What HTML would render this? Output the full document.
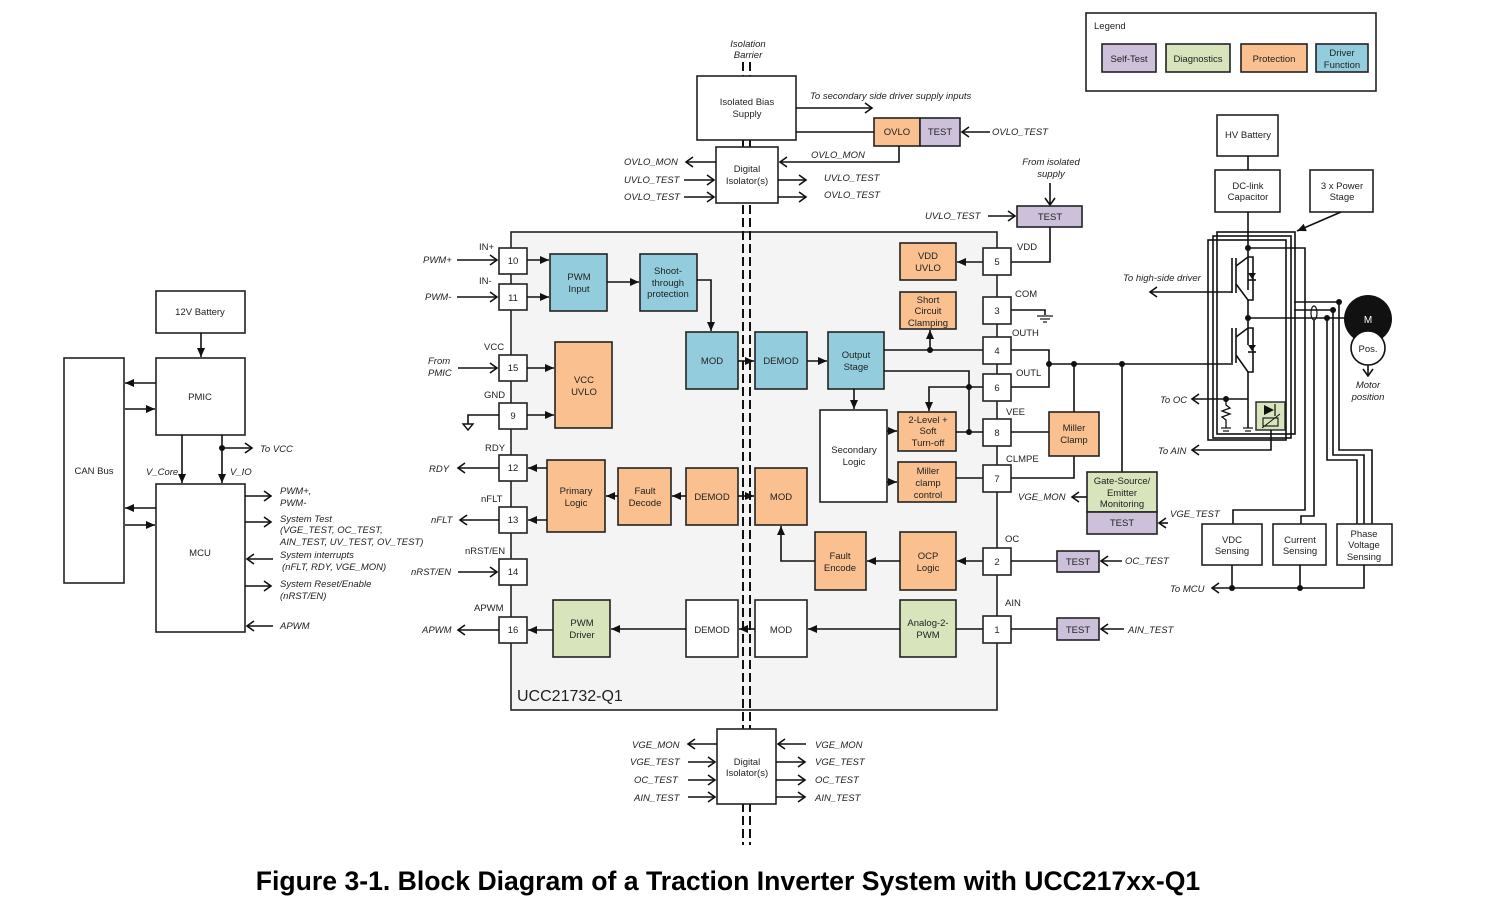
<!DOCTYPE html>
<html><head><meta charset="utf-8"><style>
html,body{margin:0;padding:0;background:#fff}
svg{display:block}
text{font-family:"Liberation Sans",sans-serif;font-size:9.5px;fill:#222}
.i{font-style:italic}
.c{text-anchor:middle}
.r{text-anchor:end}
.l{stroke:#111;stroke-width:1.6;fill:none}
.bx{stroke:#222;stroke-width:1.6}
.W{fill:#fff}.B{fill:#93cddd}.O{fill:#fac090}.G{fill:#d7e4bc}.P{fill:#ccc0da}
</style></head><body>
<svg width="1496" height="901" viewBox="0 0 1496 901" xmlns="http://www.w3.org/2000/svg">
<defs>
<marker id="t" markerWidth="10" markerHeight="10" refX="9" refY="5" orient="auto" markerUnits="userSpaceOnUse"><path d="M0,1 L9,5 L0,9z" fill="#111"/></marker>
<marker id="o" markerWidth="10" markerHeight="12" refX="8" refY="6" orient="auto" markerUnits="userSpaceOnUse"><path d="M1,1 L8,6 L1,11" fill="none" stroke="#111" stroke-width="1.6"/></marker>
</defs>

<!-- Legend -->
<rect x="1086" y="13" width="290" height="78" class="bx W"/>
<text x="1094" y="29">Legend</text>
<rect x="1102" y="44" width="54" height="28" class="bx P"/><text x="1129" y="62" class="c">Self-Test</text>
<rect x="1166" y="44" width="64" height="28" class="bx G"/><text x="1198" y="62" class="c">Diagnostics</text>
<rect x="1241" y="44" width="66" height="28" class="bx O"/><text x="1274" y="62" class="c">Protection</text>
<rect x="1316" y="44" width="52" height="28" class="bx B"/><text x="1342" y="56" class="c">Driver</text><text x="1342" y="68" class="c">Function</text>

<!-- Chip -->
<rect x="511" y="232" width="486" height="478" fill="#f4f4f4" stroke="#222" stroke-width="1.6"/>
<text x="517" y="701" style="font-size:16px">UCC21732-Q1</text>

<!-- isolation barrier -->
<line x1="743" y1="62" x2="743" y2="845" stroke="#111" stroke-width="2" stroke-dasharray="9,4"/>
<line x1="750" y1="62" x2="750" y2="845" stroke="#111" stroke-width="2" stroke-dasharray="9,4"/>
<text x="748" y="47" class="c i">Isolation</text><text x="748" y="58" class="c i">Barrier</text>

<!-- Top section -->
<rect x="697" y="76" width="99" height="64" class="bx W"/><text x="747" y="105" class="c">Isolated Bias</text><text x="747" y="117" class="c">Supply</text>
<rect x="716" y="147" width="62" height="56" class="bx W"/><text x="747" y="172" class="c">Digital</text><text x="747" y="184" class="c">Isolator(s)</text>
<line x1="796" y1="108" x2="872" y2="108" class="l" marker-end="url(#o)"/>
<text x="810" y="99" class="i">To secondary side driver supply inputs</text>
<line x1="796" y1="132" x2="874" y2="132" class="l"/>
<rect x="874" y="118" width="46" height="28" class="bx O"/><text x="897" y="135" class="c">OVLO</text>
<rect x="920" y="118" width="40" height="28" class="bx P"/><text x="940" y="135" class="c">TEST</text>
<line x1="990" y1="132" x2="962" y2="132" class="l" marker-end="url(#o)"/><text x="992" y="135" class="i">OVLO_TEST</text>
<polyline points="899,146 899,162 780,162" class="l" marker-end="url(#o)"/><text x="811" y="158" class="i">OVLO_MON</text>
<line x1="716" y1="162" x2="686" y2="162" class="l" marker-end="url(#o)"/><text x="624" y="165" class="i">OVLO_MON</text>
<line x1="684" y1="180" x2="714" y2="180" class="l" marker-end="url(#o)"/><text x="624" y="183" class="i">UVLO_TEST</text>
<line x1="684" y1="197" x2="714" y2="197" class="l" marker-end="url(#o)"/><text x="624" y="200" class="i">OVLO_TEST</text>
<line x1="778" y1="180" x2="806" y2="180" class="l" marker-end="url(#o)"/><text x="824" y="181" class="i">UVLO_TEST</text>
<line x1="778" y1="197" x2="806" y2="197" class="l" marker-end="url(#o)"/><text x="824" y="198" class="i">OVLO_TEST</text>
<text x="1051" y="165" class="c i">From isolated</text><text x="1051" y="177" class="c i">supply</text>
<line x1="1050" y1="183" x2="1050" y2="205" class="l" marker-end="url(#o)"/>
<rect x="1017" y="206" width="65" height="21" class="bx P"/><text x="1050" y="220" class="c">TEST</text>
<line x1="988" y1="216" x2="1015" y2="216" class="l" marker-end="url(#o)"/><text x="925" y="219" class="i">UVLO_TEST</text>
<polyline points="1050,227 1050,262 1011,262" class="l"/>

<!-- Left pins -->
<g>
<rect x="499" y="248" width="28" height="26" class="bx W"/><text x="513" y="264" class="c">10</text><text x="479" y="250">IN+</text>
<rect x="499" y="284" width="28" height="26" class="bx W"/><text x="513" y="301" class="c">11</text><text x="479" y="284">IN-</text>
<rect x="499" y="355" width="28" height="26" class="bx W"/><text x="513" y="371" class="c">15</text><text x="484" y="350">VCC</text>
<rect x="499" y="403" width="28" height="26" class="bx W"/><text x="513" y="419" class="c">9</text><text x="484" y="398">GND</text>
<rect x="499" y="455" width="28" height="26" class="bx W"/><text x="513" y="471" class="c">12</text><text x="485" y="451">RDY</text>
<rect x="499" y="507" width="28" height="26" class="bx W"/><text x="513" y="523" class="c">13</text><text x="481" y="502">nFLT</text>
<rect x="499" y="559" width="28" height="26" class="bx W"/><text x="513" y="575" class="c">14</text><text x="465" y="554">nRST/EN</text>
<rect x="499" y="617" width="28" height="26" class="bx W"/><text x="513" y="633" class="c">16</text><text x="474" y="611">APWM</text>
</g>
<line x1="457" y1="260" x2="497" y2="260" class="l" marker-end="url(#o)"/><text x="423" y="263" class="i">PWM+</text>
<line x1="457" y1="297" x2="497" y2="297" class="l" marker-end="url(#o)"/><text x="425" y="300" class="i">PWM-</text>
<line x1="458" y1="368" x2="497" y2="368" class="l" marker-end="url(#o)"/><text x="428" y="364" class="i">From</text><text x="428" y="376" class="i">PMIC</text>
<polyline points="499,415 468,415 468,424" class="l"/><path d="M463,424 L473,424 L468,430z" fill="none" stroke="#111" stroke-width="1.4"/>
<line x1="499" y1="468" x2="458" y2="468" class="l" marker-end="url(#o)"/><text x="429" y="472" class="i">RDY</text>
<line x1="499" y1="520" x2="460" y2="520" class="l" marker-end="url(#o)"/><text x="431" y="523" class="i">nFLT</text>
<line x1="458" y1="572" x2="497" y2="572" class="l" marker-end="url(#o)"/><text x="411" y="575" class="i">nRST/EN</text>
<line x1="499" y1="630" x2="458" y2="630" class="l" marker-end="url(#o)"/><text x="422" y="633" class="i">APWM</text>

<!-- Primary side blocks -->
<rect x="550" y="254" width="57" height="57" class="bx B"/><text x="579" y="280" class="c">PWM</text><text x="579" y="292" class="c">Input</text>
<rect x="640" y="254" width="57" height="57" class="bx B"/><text x="668" y="274" class="c">Shoot-</text><text x="668" y="286" class="c">through</text><text x="668" y="297" class="c">protection</text>
<rect x="686" y="332" width="52" height="57" class="bx B"/><text x="712" y="364" class="c">MOD</text>
<rect x="755" y="332" width="52" height="57" class="bx B"/><text x="781" y="364" class="c">DEMOD</text>
<rect x="828" y="332" width="56" height="57" class="bx B"/><text x="856" y="358" class="c">Output</text><text x="856" y="370" class="c">Stage</text>
<rect x="555" y="342" width="57" height="86" class="bx O"/><text x="584" y="383" class="c">VCC</text><text x="584" y="395" class="c">UVLO</text>
<rect x="547" y="460" width="58" height="72" class="bx O"/><text x="576" y="494" class="c">Primary</text><text x="576" y="506" class="c">Logic</text>
<rect x="618" y="468" width="53" height="57" class="bx O"/><text x="645" y="494" class="c">Fault</text><text x="645" y="506" class="c">Decode</text>
<rect x="686" y="468" width="52" height="57" class="bx O"/><text x="712" y="500" class="c">DEMOD</text>
<rect x="755" y="468" width="52" height="57" class="bx O"/><text x="781" y="500" class="c">MOD</text>
<rect x="815" y="532" width="51" height="58" class="bx O"/><text x="840" y="559" class="c">Fault</text><text x="840" y="571" class="c">Encode</text>
<rect x="900" y="532" width="56" height="58" class="bx O"/><text x="928" y="559" class="c">OCP</text><text x="928" y="571" class="c">Logic</text>
<rect x="553" y="600" width="57" height="57" class="bx G"/><text x="582" y="626" class="c">PWM</text><text x="582" y="638" class="c">Driver</text>
<rect x="686" y="600" width="52" height="57" class="bx W"/><text x="712" y="633" class="c">DEMOD</text>
<rect x="755" y="600" width="52" height="57" class="bx W"/><text x="781" y="633" class="c">MOD</text>
<rect x="900" y="600" width="56" height="57" class="bx G"/><text x="928" y="626" class="c">Analog-2-</text><text x="928" y="638" class="c">PWM</text>
<rect x="900" y="243" width="56" height="37" class="bx O"/><text x="928" y="259" class="c">VDD</text><text x="928" y="271" class="c">UVLO</text>
<rect x="900" y="292" width="56" height="37" class="bx O"/><text x="928" y="303" class="c">Short</text><text x="928" y="314" class="c">Circuit</text><text x="928" y="326" class="c">Clamping</text>
<rect x="820" y="410" width="67" height="92" class="bx W"/><text x="854" y="453" class="c">Secondary</text><text x="854" y="465" class="c">Logic</text>
<rect x="898" y="412" width="58" height="39" class="bx O"/><text x="928" y="423" class="c">2-Level +</text><text x="928" y="434" class="c">Soft</text><text x="928" y="446" class="c">Turn-off</text>
<rect x="898" y="462" width="58" height="40" class="bx O"/><text x="928" y="474" class="c">Miller</text><text x="928" y="486" class="c">clamp</text><text x="928" y="498" class="c">control</text>

<!-- internal connections -->
<line x1="527" y1="260" x2="549" y2="260" class="l" marker-end="url(#t)"/>
<line x1="527" y1="297" x2="549" y2="297" class="l" marker-end="url(#t)"/>
<line x1="607" y1="282" x2="639" y2="282" class="l" marker-end="url(#t)"/>
<polyline points="697,280 711,280 711,331" class="l" marker-end="url(#t)"/>
<line x1="738" y1="361" x2="754" y2="361" class="l" marker-end="url(#t)"/>
<line x1="807" y1="361" x2="827" y2="361" class="l" marker-end="url(#t)"/>
<line x1="527" y1="368" x2="554" y2="368" class="l" marker-end="url(#t)"/>
<line x1="527" y1="415" x2="554" y2="415" class="l" marker-end="url(#t)"/>
<line x1="547" y1="468" x2="528" y2="468" class="l" marker-end="url(#t)"/>
<line x1="547" y1="520" x2="528" y2="520" class="l" marker-end="url(#t)"/>
<line x1="618" y1="496" x2="606" y2="496" class="l" marker-end="url(#t)"/>
<line x1="686" y1="496" x2="672" y2="496" class="l" marker-end="url(#t)"/>
<line x1="738" y1="496" x2="754" y2="496" class="l" marker-end="url(#t)"/>
<polyline points="815,561 781,561 781,526" class="l" marker-end="url(#t)"/>
<line x1="900" y1="561" x2="867" y2="561" class="l" marker-end="url(#t)"/>
<line x1="983" y1="561" x2="957" y2="561" class="l" marker-end="url(#t)"/>
<line x1="686" y1="629" x2="611" y2="629" class="l" marker-end="url(#t)"/>
<line x1="755" y1="629" x2="739" y2="629" class="l" marker-end="url(#t)"/>
<line x1="900" y1="629" x2="808" y2="629" class="l" marker-end="url(#t)"/>
<line x1="956" y1="629" x2="983" y2="629" class="l"/>
<line x1="553" y1="630" x2="528" y2="630" class="l" marker-end="url(#t)"/>
<line x1="983" y1="262" x2="957" y2="262" class="l" marker-end="url(#t)"/>
<line x1="884" y1="350" x2="983" y2="350" class="l"/>
<line x1="930" y1="350" x2="930" y2="330" class="l" marker-end="url(#t)"/><circle cx="930" cy="350" r="3" fill="#111"/>
<polyline points="884,371 969,371 969,432" class="l"/>
<polyline points="983,387 929,387 929,411" class="l" marker-end="url(#t)"/><circle cx="969" cy="387" r="3" fill="#111"/>
<line x1="956" y1="432" x2="983" y2="432" class="l"/><circle cx="969" cy="432" r="3" fill="#111"/>
<line x1="854" y1="389" x2="854" y2="409" class="l" marker-end="url(#t)"/>
<line x1="887" y1="431" x2="897" y2="431" class="l" marker-end="url(#t)"/>
<line x1="887" y1="482" x2="897" y2="482" class="l" marker-end="url(#t)"/>
<line x1="956" y1="478" x2="983" y2="478" class="l"/>

<!-- Right pins -->
<rect x="983" y="248" width="28" height="27" class="bx W"/><text x="997" y="265" class="c">5</text><text x="1017" y="250">VDD</text>
<rect x="983" y="297" width="28" height="27" class="bx W"/><text x="997" y="314" class="c">3</text><text x="1015" y="297">COM</text>
<rect x="983" y="337" width="28" height="27" class="bx W"/><text x="997" y="354" class="c">4</text><text x="1012" y="336">OUTH</text>
<rect x="983" y="374" width="28" height="27" class="bx W"/><text x="997" y="391" class="c">6</text><text x="1016" y="376">OUTL</text>
<rect x="983" y="419" width="28" height="27" class="bx W"/><text x="997" y="436" class="c">8</text><text x="1006" y="415">VEE</text>
<rect x="983" y="465" width="28" height="27" class="bx W"/><text x="997" y="482" class="c">7</text><text x="1006" y="462">CLMPE</text>
<rect x="983" y="548" width="28" height="27" class="bx W"/><text x="997" y="565" class="c">2</text><text x="1005" y="542">OC</text>
<rect x="983" y="616" width="28" height="27" class="bx W"/><text x="997" y="633" class="c">1</text><text x="1005" y="606">AIN</text>

<polyline points="1011,310 1045,310 1045,315" class="l"/>
<line x1="1037" y1="316" x2="1053" y2="316" class="l" style="stroke-width:1.2"/><line x1="1040" y1="319" x2="1050" y2="319" class="l" style="stroke-width:1.2"/><line x1="1043" y1="322" x2="1047" y2="322" class="l" style="stroke-width:1.2"/>
<polyline points="1011,350 1049,350 1049,387 1011,387" class="l"/>
<line x1="1049" y1="364" x2="1233" y2="364" class="l"/>
<circle cx="1049" cy="364" r="3" fill="#111"/><circle cx="1074" cy="364" r="3" fill="#111"/><circle cx="1122" cy="364" r="3" fill="#111"/>
<line x1="1074" y1="364" x2="1074" y2="412" class="l"/>
<line x1="1011" y1="432" x2="1049" y2="432" class="l"/>
<polyline points="1011,478 1074,478 1074,456" class="l"/>
<rect x="1049" y="412" width="50" height="44" class="bx O"/><text x="1074" y="431" class="c">Miller</text><text x="1074" y="443" class="c">Clamp</text>
<line x1="1122" y1="364" x2="1122" y2="472" class="l"/>
<rect x="1087" y="472" width="70" height="40" class="bx G"/><text x="1122" y="484" class="c">Gate-Source/</text><text x="1122" y="496" class="c">Emitter</text><text x="1122" y="507" class="c">Monitoring</text>
<rect x="1087" y="512" width="70" height="22" class="bx P"/><text x="1122" y="526" class="c">TEST</text>
<line x1="1087" y1="497" x2="1072" y2="497" class="l" marker-end="url(#o)"/><text x="1018" y="500" class="i">VGE_MON</text>
<line x1="1168" y1="523" x2="1159" y2="523" class="l" marker-end="url(#o)"/><text x="1170" y="517" class="i">VGE_TEST</text>
<line x1="1011" y1="561" x2="1057" y2="561" class="l"/>
<rect x="1057" y="551" width="42" height="21" class="bx P"/><text x="1078" y="565" class="c">TEST</text>
<line x1="1122" y1="561" x2="1101" y2="561" class="l" marker-end="url(#o)"/><text x="1125" y="564" class="i">OC_TEST</text>
<line x1="1011" y1="629" x2="1057" y2="629" class="l"/>
<rect x="1057" y="618" width="42" height="22" class="bx P"/><text x="1078" y="633" class="c">TEST</text>
<line x1="1124" y1="629" x2="1101" y2="629" class="l" marker-end="url(#o)"/><text x="1128" y="633" class="i">AIN_TEST</text>

<!-- Power stage -->
<rect x="1217" y="115" width="61" height="41" class="bx W"/><text x="1248" y="138" class="c">HV Battery</text>
<rect x="1215" y="170" width="65" height="42" class="bx W"/><text x="1248" y="189" class="c">DC-link</text><text x="1248" y="200" class="c">Capacitor</text>
<rect x="1310" y="170" width="63" height="42" class="bx W"/><text x="1342" y="189" class="c">3 x Power</text><text x="1342" y="200" class="c">Stage</text>
<line x1="1248" y1="156" x2="1248" y2="170" class="l"/>
<line x1="1341" y1="212" x2="1297" y2="231" class="l" marker-end="url(#t)"/>
<rect x="1217" y="232" width="78" height="202" class="l" fill="#fff"/>
<rect x="1213" y="236" width="78" height="202" class="l" fill="#fff"/>
<rect x="1208" y="240" width="78" height="200" class="l" fill="#fff"/>
<line x1="1248" y1="212" x2="1248" y2="290" class="l"/>
<circle cx="1248" cy="248" r="3" fill="#111"/>
<polyline points="1248,248 1305,248 1305,510 1233,510 1233,524" class="l"/>
<!-- upper IGBT -->
<line x1="1232" y1="258" x2="1232" y2="293" class="l"/><line x1="1236" y1="258" x2="1236" y2="293" class="l"/>
<polyline points="1236,266 1248,257 1253,257 1253,300 1248,300 1236,284" class="l"/>
<path d="M1248,273 L1256,273 L1252,279z" fill="#111"/><line x1="1248" y1="280" x2="1256" y2="280" class="l"/>
<polyline points="1232,292 1150,292" class="l" marker-end="url(#o)"/>
<text x="1123" y="281" class="i">To high-side driver</text>
<line x1="1248" y1="300" x2="1248" y2="345" class="l"/>
<circle cx="1248" cy="318" r="3" fill="#111"/>
<line x1="1248" y1="318" x2="1348" y2="318" class="l"/>
<polyline points="1294,302 1340,302" class="l"/><polyline points="1294,310 1334,310" class="l"/>
<circle cx="1339" cy="302" r="3" fill="#111"/><circle cx="1333" cy="310" r="3" fill="#111"/><circle cx="1327" cy="318" r="3" fill="#111"/>
<ellipse cx="1314" cy="313" rx="3" ry="7" fill="none" stroke="#111" stroke-width="1.2"/>
<!-- lower IGBT -->
<line x1="1232" y1="328" x2="1232" y2="363" class="l"/><line x1="1236" y1="328" x2="1236" y2="363" class="l"/>
<polyline points="1236,337 1248,328 1253,328 1253,372 1248,372 1236,355" class="l"/>
<path d="M1248,345 L1256,345 L1252,351z" fill="#111"/><line x1="1248" y1="352" x2="1256" y2="352" class="l"/>
<line x1="1248" y1="372" x2="1248" y2="428" class="l"/>
<circle cx="1226" cy="399" r="3" fill="#111"/>
<line x1="1248" y1="399" x2="1192" y2="399" class="l" marker-end="url(#o)"/><text x="1160" y="403" class="i">To OC</text>
<polyline points="1226,399 1226,405 1230,408 1222,411 1230,414 1222,417 1226,420 1226,428" class="l" style="stroke-width:1.3"/>
<line x1="1221" y1="428" x2="1231" y2="428" class="l" style="stroke-width:1.2"/><line x1="1223" y1="431" x2="1229" y2="431" class="l" style="stroke-width:1.2"/>
<line x1="1243" y1="428" x2="1253" y2="428" class="l" style="stroke-width:1.2"/><line x1="1245" y1="431" x2="1251" y2="431" class="l" style="stroke-width:1.2"/>
<rect x="1256" y="402" width="29" height="28" fill="#d7e4bc" stroke="#222" stroke-width="1.4"/>
<path d="M1264,405 L1274,410 L1264,415z" fill="#111"/><line x1="1275" y1="404" x2="1275" y2="416" class="l" style="stroke-width:1.2"/>
<rect x="1263" y="418" width="15" height="8" fill="none" stroke="#111" stroke-width="1.1"/><line x1="1262" y1="428" x2="1280" y2="414" stroke="#111" stroke-width="1"/>
<polyline points="1271,430 1271,450 1192,450" class="l" marker-end="url(#o)"/><text x="1158" y="454" class="i">To AIN</text>
<!-- sensing lines -->
<polyline points="1314,320 1314,516 1301,516 1301,524" class="l"/>
<polyline points="1327,318 1327,460 1357,460 1357,524" class="l"/>
<polyline points="1333,310 1333,455 1364,455 1364,524" class="l"/>
<polyline points="1339,302 1339,450 1372,450 1372,524" class="l"/>
<circle cx="1368" cy="319" r="24" fill="#111"/><text x="1368" y="323" class="c" style="fill:#fff;font-size:10px">M</text>
<circle cx="1368" cy="348" r="17" fill="#fff" stroke="#111" stroke-width="1.6"/><text x="1368" y="352" class="c">Pos.</text>
<line x1="1368" y1="365" x2="1368" y2="376" class="l" marker-end="url(#o)"/>
<text x="1368" y="388" class="c i">Motor</text><text x="1368" y="400" class="c i">position</text>
<rect x="1202" y="524" width="60" height="41" class="bx W"/><text x="1232" y="543" class="c">VDC</text><text x="1232" y="554" class="c">Sensing</text>
<rect x="1273" y="524" width="53" height="41" class="bx W"/><text x="1300" y="543" class="c">Current</text><text x="1300" y="554" class="c">Sensing</text>
<rect x="1337" y="524" width="55" height="41" class="bx W"/><text x="1364" y="537" class="c">Phase</text><text x="1364" y="548" class="c">Voltage</text><text x="1364" y="560" class="c">Sensing</text>
<polyline points="1364,565 1364,588 1212,588" class="l" marker-end="url(#o)"/>
<line x1="1232" y1="565" x2="1232" y2="588" class="l"/><line x1="1300" y1="565" x2="1300" y2="588" class="l"/>
<circle cx="1232" cy="588" r="3" fill="#111"/><circle cx="1300" cy="588" r="3" fill="#111"/>
<text x="1170" y="592" class="i">To MCU</text>

<!-- Bottom isolator -->
<rect x="717" y="729" width="59" height="75" class="bx W"/><text x="747" y="765" class="c">Digital</text><text x="747" y="776" class="c">Isolator(s)</text>
<line x1="717" y1="744" x2="688" y2="744" class="l" marker-end="url(#o)"/><text x="632" y="748" class="i">VGE_MON</text>
<line x1="688" y1="762" x2="715" y2="762" class="l" marker-end="url(#o)"/><text x="630" y="765" class="i">VGE_TEST</text>
<line x1="688" y1="780" x2="715" y2="780" class="l" marker-end="url(#o)"/><text x="634" y="783" class="i">OC_TEST</text>
<line x1="688" y1="797" x2="715" y2="797" class="l" marker-end="url(#o)"/><text x="634" y="801" class="i">AIN_TEST</text>
<line x1="806" y1="744" x2="778" y2="744" class="l" marker-end="url(#o)"/><text x="815" y="748" class="i">VGE_MON</text>
<line x1="776" y1="762" x2="805" y2="762" class="l" marker-end="url(#o)"/><text x="815" y="765" class="i">VGE_TEST</text>
<line x1="776" y1="780" x2="805" y2="780" class="l" marker-end="url(#o)"/><text x="815" y="783" class="i">OC_TEST</text>
<line x1="776" y1="797" x2="805" y2="797" class="l" marker-end="url(#o)"/><text x="815" y="801" class="i">AIN_TEST</text>

<!-- Left system -->
<rect x="64" y="358" width="60" height="225" class="bx W"/><text x="94" y="474" class="c">CAN Bus</text>
<rect x="156" y="291" width="89" height="42" class="bx W"/><text x="200" y="315" class="c">12V Battery</text>
<rect x="156" y="358" width="89" height="77" class="bx W"/><text x="200" y="400" class="c">PMIC</text>
<rect x="156" y="484" width="89" height="148" class="bx W"/><text x="200" y="556" class="c">MCU</text>
<line x1="201" y1="333" x2="201" y2="357" class="l" marker-end="url(#t)"/>
<line x1="156" y1="383" x2="125" y2="383" class="l" marker-end="url(#t)"/>
<line x1="125" y1="409" x2="155" y2="409" class="l" marker-end="url(#t)"/>
<line x1="156" y1="508" x2="125" y2="508" class="l" marker-end="url(#t)"/>
<line x1="125" y1="525" x2="155" y2="525" class="l" marker-end="url(#t)"/>
<line x1="182" y1="435" x2="182" y2="483" class="l" marker-end="url(#t)"/>
<line x1="222" y1="435" x2="222" y2="483" class="l" marker-end="url(#t)"/>
<circle cx="222" cy="448" r="3" fill="#111"/><line x1="222" y1="448" x2="252" y2="448" class="l" marker-end="url(#o)"/>
<text x="260" y="452" class="i">To VCC</text>
<text x="146" y="475" class="i">V_Core</text><text x="230" y="475" class="i">V_IO</text>
<line x1="245" y1="496" x2="271" y2="496" class="l" marker-end="url(#o)"/><text x="280" y="494" class="i">PWM+,</text><text x="280" y="506" class="i">PWM-</text>
<line x1="245" y1="522" x2="271" y2="522" class="l" marker-end="url(#o)"/><text x="280" y="522" class="i">System Test</text><text x="280" y="533" class="i">(VGE_TEST, OC_TEST,</text><text x="280" y="545" class="i">AIN_TEST, UV_TEST, OV_TEST)</text>
<line x1="273" y1="559" x2="247" y2="559" class="l" marker-end="url(#o)"/><text x="280" y="558" class="i">System interrupts</text><text x="282" y="570" class="i">(nFLT, RDY, VGE_MON)</text>
<line x1="245" y1="586" x2="271" y2="586" class="l" marker-end="url(#o)"/><text x="280" y="587" class="i">System Reset/Enable</text><text x="280" y="599" class="i">(nRST/EN)</text>
<line x1="273" y1="626" x2="247" y2="626" class="l" marker-end="url(#o)"/><text x="280" y="629" class="i">APWM</text>

<text x="728" y="890" class="c" style="font-size:26.6px;font-weight:bold;fill:#000">Figure 3-1. Block Diagram of a Traction Inverter System with UCC217xx-Q1</text>
</svg>
</body></html>
